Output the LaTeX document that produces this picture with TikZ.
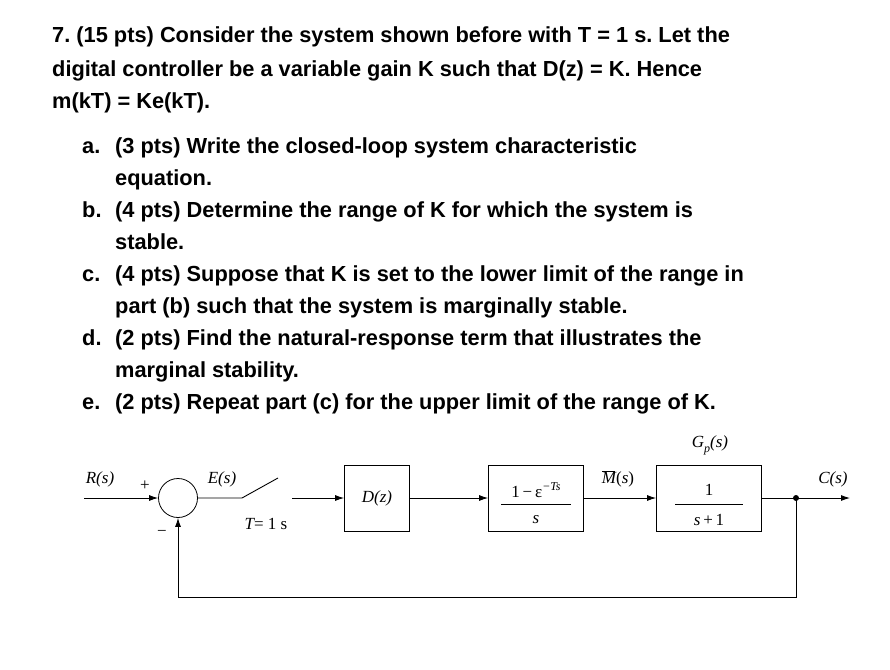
\documentclass[tikz,border=0pt]{standalone}
\usepackage{fontspec}
\setmainfont{Liberation Sans}
\newfontfamily\dfont{Liberation Serif}
\usetikzlibrary{arrows.meta}
\begin{document}
\frenchspacing
\begin{tikzpicture}[x=1pt,y=-1pt,
  txt/.style={anchor=base west,inner sep=0pt,font=\fontsize{21.8}{24}\selectfont\bfseries},
  blk/.style={draw,line width=0.8pt,minimum height=66pt,inner sep=0pt,font=\dfont\fontsize{17}{18}\selectfont},
  lab/.style={inner sep=0pt,font=\dfont\fontsize{17}{18}\selectfont},
  sig/.style={line width=0.9pt,-{Latex[length=9pt,width=6pt]}},
  ln/.style={line width=0.9pt}]
\useasboundingbox (0,0) rectangle (890,669);
\node[txt] (l1) at (52,43) {7. (15 pts) Consider the system shown before with T = 1 s. Let the};
\node[txt] (l2) at (52,76) {digital controller be a variable gain K such that D(z) = K. Hence};
\node[txt] (l3) at (52,108) {m(kT) = Ke(kT).};
\node[txt] (a1) at (82,153) {a.};
\node[txt] (a2) at (115,153) {(3 pts) Write the closed-loop system characteristic};
\node[txt] (a3) at (115,185) {equation.};
\node[txt] (b1) at (82,217) {b.};
\node[txt] (b2) at (115,217) {(4 pts) Determine the range of K for which the system is};
\node[txt] (b3) at (115,249) {stable.};
\node[txt] (c1) at (82,281) {c.};
\node[txt] (c2) at (115,281) {(4 pts) Suppose that K is set to the lower limit of the range in};
\node[txt] (c3) at (115,313) {part (b) such that the system is marginally stable.};
\node[txt] (d1) at (82,345) {d.};
\node[txt] (d2) at (115,345) {(2 pts) Find the natural-response term that illustrates the};
\node[txt] (d3) at (115,377) {marginal stability.};
\node[txt] (e1) at (82,409) {e.};
\node[txt] (e2) at (115,409) {(2 pts) Repeat part (c) for the upper limit of the range of K.};
% diagram
\coordinate (in) at (84,498);
\node[draw,circle,line width=0.8pt,minimum size=39pt,inner sep=0pt] (sum) at (178,498) {};
\coordinate (sw1) at (242,498);
\coordinate (sw2) at (278,478);
\coordinate (sws) at (292,498);
\node[blk,minimum width=65pt] (D) at (377,498) {\itshape D(z)};
\node[blk,minimum width=95pt] (G) at (536,498) {};
\node[blk,minimum width=105pt] (P) at (709,498) {};
\node[lab] (Gn) at (536,490) {1\,\textminus\,ε\raisebox{0.45em}{\fontsize{12}{12}\selectfont\itshape\textminus Ts}};
\node[lab] (Gd) at (536,520) {\itshape s};
\draw[ln] (501,504) -- (571,504);
\node[lab] (Pn) at (709,490) {1};
\node[lab] (Pd) at (709,520) {\itshape s\,\upshape+\,1};
\draw[ln] (675,504) -- (743,504);
\coordinate (tap) at (796,498);
\coordinate (out) at (850,498);
\coordinate (fb) at (796,597);
\coordinate (fb2) at (178,597);
\draw[sig] (in) -- (sum);
\draw[ln] (sum) -- (sw1) -- (sw2);
\draw[sig] (sws) -- (D);
\draw[sig] (D) -- (G);
\draw[sig] (G) -- (P);
\draw[sig] (P) -- (out);
\fill (tap) circle (3pt);
\draw[sig] (tap) -- (fb) -- (fb2) -- (sum);
\node[lab] (R) at (100,479) {\itshape R(s)};
\node[lab] (pl) at (145,486) {+};
\node[lab] (mi) at (162,533) {\textminus};
\node[lab] (E) at (222,479) {\itshape E(s)};
\node[lab] (T) at (266,524) {\itshape T\upshape= 1 s};
\node[lab] (M) at (618,479) {\itshape\rlap{\raisebox{0.72em}{\rule{0.75em}{0.7pt}}}M\upshape(\itshape s\upshape)};
\node[lab] (Gp) at (710,445) {\itshape G\raisebox{-0.3em}{\fontsize{12}{12}\selectfont p}(s)};
\node[lab] (C) at (833,479) {\itshape C(s)};
\end{tikzpicture}
\end{document}
